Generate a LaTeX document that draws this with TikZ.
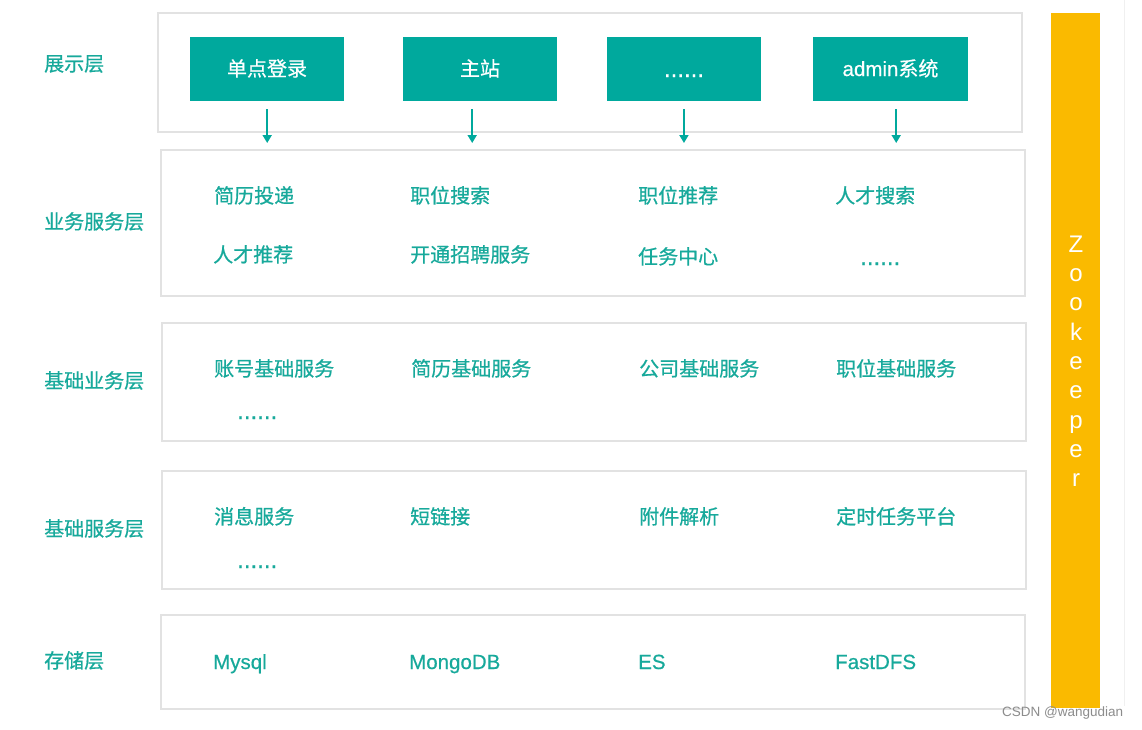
\documentclass[tikz,border=0pt]{standalone}
\usepackage{fontspec}
\setmainfont{Liberation Sans}
\newfontfamily\cjk{Noto Sans CJK SC}[FakeBold=0.6]
\newfontfamily\latmed{Liberation Sans}[FakeBold=0.5]
\usetikzlibrary{arrows.meta}
\definecolor{tealfill}{HTML}{00A99D}
\definecolor{tealtxt}{HTML}{17A99B}
\definecolor{zkyellow}{HTML}{FABA00}
\definecolor{boxgray}{HTML}{E2E2E2}
\definecolor{wmgray}{HTML}{8C8C8C}
\begin{document}
\begin{tikzpicture}[x=1pt,y=-1pt,
  layerbox/.style={draw=boxgray,line width=1.5pt,fill=white,anchor=north west,inner sep=0pt,minimum width=864pt},
  appbox/.style={fill=tealfill,draw=none,anchor=north west,inner sep=0pt,minimum height=64pt},
  lbl/.style={anchor=base west,inner sep=0pt,text=tealtxt,font=\cjk\fontsize{20}{24}\selectfont},
  latitem/.style={anchor=base west,inner sep=0pt,text=tealtxt,font=\latmed\fontsize{20.5}{24}\selectfont},
  dotitem/.style={anchor=base west,inner sep=0pt,text=tealtxt,font=\latmed\fontsize{24}{28}\selectfont},
  apptxt/.style={anchor=base,inner sep=0pt,text=white,font=\cjk\fontsize{20}{24}\selectfont},
  appdots/.style={anchor=base,inner sep=0pt,text=white,font=\latmed\fontsize{24}{28}\selectfont},
  zkletter/.style={anchor=base,inner sep=0pt,text=white,font=\fontsize{24}{28}\selectfont},
  flow/.style={draw=tealfill,line width=1.8pt,-{Triangle[width=9pt,length=8pt]}},
]
\useasboundingbox (0,0) rectangle (1142,729);
\fill[white] (0,0) rectangle (1142,729);

% faint page edge
\draw[black!6,line width=1pt] (1124.5,0) -- (1124.5,706);

% layer boxes
\node[layerbox,minimum height=119pt] (L1) at (157,12) {};
\node[layerbox,minimum height=146pt] (L2) at (160,149) {};
\node[layerbox,minimum height=118pt] (L3) at (161,322) {};
\node[layerbox,minimum height=118pt] (L4) at (161,470) {};
\node[layerbox,minimum height=94pt] (L5) at (160,614) {};

% left labels
\node[lbl] (n1) at (44,71) {展示层};
\node[lbl] (n2) at (44,229) {业务服务层};
\node[lbl] (n3) at (44,388) {基础业务层};
\node[lbl] (n4) at (44,536) {基础服务层};
\node[lbl] (n5) at (44,668) {存储层};

% presentation boxes
\node[appbox,minimum width=154pt] (A1) at (190,37) {};
\node[appbox,minimum width=154pt] (A2) at (403,37) {};
\node[appbox,minimum width=154.5pt] (A3) at (606.5,37) {};
\node[appbox,minimum width=155pt] (A4) at (813,37) {};
\node[apptxt] (A1t) at (267,76) {单点登录};
\node[apptxt] (A2t) at (480,76) {主站};
\node[appdots] (A3t) at (684,77) {......};
\node[apptxt] (A4t) at (890.5,76) {{\latmed\fontsize{20.5}{24}\selectfont admin}系统};

% arrows
\draw[flow] ([yshift=-8pt]A1.south) -- ([yshift=6pt]A1.south |- L2.north);
\draw[flow] ([xshift=-8pt,yshift=-8pt]A2.south) -- ([xshift=-8pt,yshift=6pt]A2.south |- L2.north);
\draw[flow] ([yshift=-8pt]A3.south) -- ([yshift=6pt]A3.south |- L2.north);
\draw[flow] ([xshift=5.5pt,yshift=-8pt]A4.south) -- ([xshift=5.5pt,yshift=6pt]A4.south |- L2.north);

% business service layer
\node[lbl] (b1) at (214,203) {简历投递};
\node[lbl] (b2) at (410,203) {职位搜索};
\node[lbl] (b3) at (638,203) {职位推荐};
\node[lbl] (b4) at (835,203) {人才搜索};
\node[lbl] (b5) at (213,262) {人才推荐};
\node[lbl] (b6) at (410,262) {开通招聘服务};
\node[lbl] (b7) at (638,264) {任务中心};
\node[dotitem] (b8) at (860,265) {......};

% basic business layer
\node[lbl] (c1) at (214,376) {账号基础服务};
\node[lbl] (c2) at (411,376) {简历基础服务};
\node[lbl] (c3) at (639,376) {公司基础服务};
\node[lbl] (c4) at (836,376) {职位基础服务};
\node[dotitem] (c5) at (237,419) {......};

% basic service layer
\node[lbl] (d1) at (214,524) {消息服务};
\node[lbl] (d2) at (410,524) {短链接};
\node[lbl] (d3) at (639,524) {附件解析};
\node[lbl] (d4) at (836,524) {定时任务平台};
\node[dotitem] (d5) at (237,568) {......};

% storage layer
\node[latitem] (e1) at (213,669) {Mysql};
\node[latitem] (e2) at (409,669) {MongoDB};
\node[latitem] (e3) at (638,669) {ES};
\node[latitem] (e4) at (835,669) {FastDFS};

% Zookeeper bar
\node[fill=zkyellow,draw=none,anchor=north west,inner sep=0pt,minimum width=49pt,minimum height=695pt] (zk) at (1051,13) {};
\foreach \ch [count=\i from 0] in {Z,o,o,k,e,e,p,e,r}{
  \node[zkletter] (zk\i) at (1076,252.3+29.3*\i) {\ch};
}

% watermark
\node[anchor=base west,inner sep=0pt,text=wmgray,font=\fontsize{13.5}{16}\selectfont] (wm) at (1002,716.5) {CSDN @wangudian};
\end{tikzpicture}
\end{document}
